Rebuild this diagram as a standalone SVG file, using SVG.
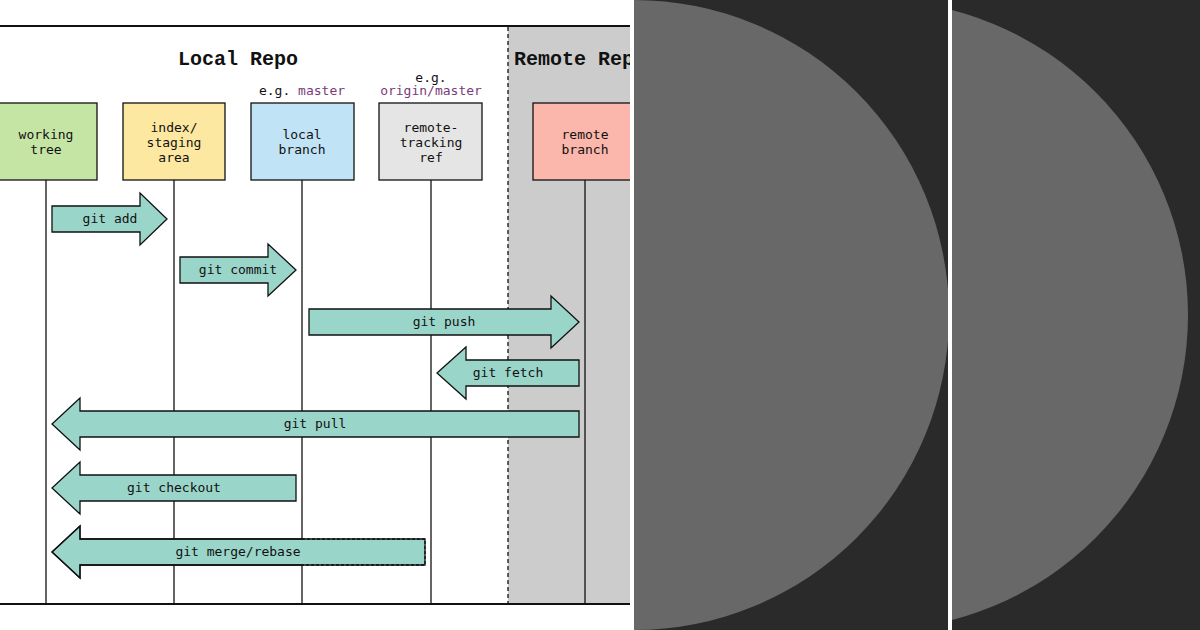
<svg xmlns="http://www.w3.org/2000/svg" width="1200" height="630" viewBox="0 0 1200 630">
<style>
text{font-family:"DejaVu Sans Mono","Liberation Mono",monospace;font-size:13px;text-anchor:middle;fill:#111}
.t{font-size:20px;font-weight:bold;font-family:"Liberation Mono",monospace}
.p{fill:#7a3b7a}
.box{stroke:#111;stroke-width:1.3}
.life{stroke:#111;stroke-width:1.3}
.ar{fill:#9ad5c9;stroke:#111;stroke-width:1.3}
</style>
<defs><clipPath id="c1"><rect x="634" y="0" width="314" height="630"/></clipPath><clipPath id="c2"><rect x="952" y="0" width="248" height="630"/></clipPath><clipPath id="cl"><rect x="0" y="0" width="630" height="630"/></clipPath></defs>
<rect width="1200" height="630" fill="#fff"/>
<g clip-path="url(#cl)">
<rect x="508" y="27" width="130" height="577" fill="#cccccc"/>
<line x1="508" y1="27" x2="508" y2="604" stroke="#111" stroke-width="1.3" stroke-dasharray="4,3"/>
<line x1="0" y1="26" x2="630" y2="26" stroke="#111" stroke-width="2"/>
<line x1="0" y1="604" x2="630" y2="604" stroke="#111" stroke-width="2"/>
<text class="t" x="238" y="65">Local Repo</text>
<text class="t" x="580" y="65">Remote Repo</text>
<g id="lifelines">
<line class="life" x1="46" y1="180" x2="46" y2="604"/><line class="life" x1="174" y1="180" x2="174" y2="604"/><line class="life" x1="302" y1="180" x2="302" y2="604"/><line class="life" x1="431" y1="180" x2="431" y2="604"/><line class="life" x1="585" y1="180" x2="585" y2="604"/>
</g>
<g id="working"><rect class="box" x="-2" y="103" width="99" height="77" fill="#c5e5a5"/><text x="46" y="139">working</text><text x="46" y="154">tree</text></g>
<g id="index"><rect class="box" x="123" y="103" width="102" height="77" fill="#fde8a2"/><text x="174" y="132">index/</text><text x="174" y="147">staging</text><text x="174" y="162">area</text></g>
<g id="local"><text x="302" y="95">e.g. <tspan class="p">master</tspan></text><rect class="box" x="251" y="103" width="103" height="77" fill="#c1e3f6"/><text x="302" y="139">local</text><text x="302" y="154">branch</text></g>
<g id="tracking"><text x="431" y="82">e.g.</text><text class="p" x="431" y="95">origin/master</text><rect class="box" x="379" y="103" width="103" height="77" fill="#e5e5e5"/><text x="431" y="132">remote-</text><text x="431" y="147">tracking</text><text x="431" y="162">ref</text></g>
<g id="remote"><rect class="box" x="533" y="103" width="110" height="77" fill="#fbb7ab"/><text x="585" y="139">remote</text><text x="585" y="154">branch</text></g>
<g id="connectors">
<path class="ar" d="M52 206H140V193L167 219L140 245V232H52Z"/><text x="110" y="223">git add</text>
<path class="ar" d="M180 257H268V244L296 270L268 296V283H180Z"/><text x="238" y="274">git commit</text>
<path class="ar" d="M309 309H551V296L579 322L551 348V335H309Z"/><text x="444" y="326">git push</text>
<path class="ar" d="M579 360H466V347L437 373L466 399V386H579Z"/><text x="508" y="377">git fetch</text>
<path class="ar" d="M579 411H80V398L52 424L80 450V437H579Z"/><text x="315" y="428">git pull</text>
<path class="ar" d="M296 475H80V462L52 488L80 514V501H296Z"/><text x="174" y="492">git checkout</text>
<path class="ar" stroke="none" d="M425 539H80V526L52 552L80 578V565H425Z"/>
<path fill="none" stroke="#111" stroke-width="1.3" d="M302 539H80V526L52 552L80 578V565H302"/>
<path fill="none" stroke="#111" stroke-width="1.3" stroke-dasharray="3,2" d="M302 539H425V565H302"/>
<text x="238" y="556">git merge/rebase</text>
</g>
</g>
<rect x="634" y="0" width="314" height="630" fill="#2a2a2a"/>
<rect x="952" y="0" width="248" height="630" fill="#2a2a2a"/>
<circle cx="634" cy="315" r="315" fill="#686868" clip-path="url(#c1)"/>
<circle cx="873" cy="315" r="315" fill="#686868" clip-path="url(#c2)"/>
</svg>
